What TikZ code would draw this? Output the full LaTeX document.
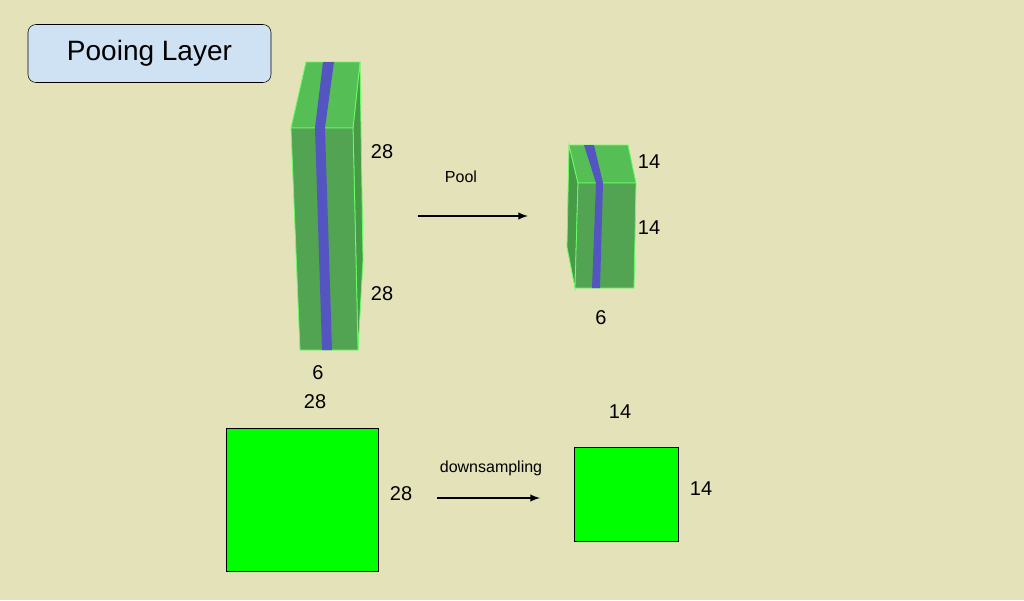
\documentclass[tikz,border=0pt]{standalone}
\usepackage{fontspec}
\setmainfont{Liberation Sans}
\definecolor{bg}{HTML}{E4E2B8}
\definecolor{tbox}{HTML}{CFE2F3}
\definecolor{gtop}{HTML}{55BE55}
\definecolor{gfront}{HTML}{52A352}
\definecolor{gside}{HTML}{479B47}
\definecolor{blu}{HTML}{5555C2}
\definecolor{bright}{HTML}{00FF00}
\begin{document}
\begin{tikzpicture}[x=0.75pt,y=-0.75pt,
  lbl/.style={font=\fontsize{15}{15}\selectfont,inner sep=0pt},
  small/.style={font=\fontsize{12}{12}\selectfont,inner sep=0pt},
  arr/.style={-latex,line width=1.5pt},
  edge/.style={draw=green!60!white,line width=0.6pt}]
\fill[bg] (0,0) rectangle (1024,600);
\useasboundingbox (0,0) rectangle (1024,600);
\node[draw=black,fill=tbox,rounded corners=6pt,minimum width=243*0.75pt,minimum height=58*0.75pt,font=\fontsize{21}{21}\selectfont] (title) at (149.5,53.5) {Pooing Layer};
% big box
\fill[gside,edge] (360,62) -- (363,260) -- (358,350) -- (353,128) -- cycle;
\fill[gtop,edge] (306,62) -- (360,62) -- (353,128) -- (291,128) -- cycle;
\fill[gfront,edge] (291,128) -- (353,128) -- (358,350) -- (300,350) -- cycle;
\fill[blu] (323,62) -- (334,62) -- (325,128) -- (315,128) -- cycle;
\fill[blu] (315,128) -- (325,128) -- (332,350) -- (322,350) -- cycle;
% small box
\fill[gside,edge] (569,145) -- (578,183) -- (575,288) -- (567,247) -- cycle;
\fill[gtop,edge] (569,145) -- (628,145) -- (636,183) -- (578,183) -- cycle;
\fill[gfront,edge] (578,183) -- (636,183) -- (634,288) -- (575,288) -- cycle;
\fill[blu] (584,145) -- (594,145) -- (603,183) -- (596,183) -- cycle;
\fill[blu] (596,183) -- (603,183) -- (600,288) -- (592,288) -- cycle;
% labels top
\node[lbl] (a1) at (382,152) {28};
\node[lbl] (a2) at (382,294) {28};
\node[lbl] (a3) at (318,373) {6};
\node[lbl] (b1) at (649,162) {14};
\node[lbl] (b2) at (649,228) {14};
\node[lbl] (b3) at (601,318) {6};
\node[small] (pool) at (461,177) {Pool};
\coordinate (p1) at (418,216); \coordinate (p2) at (528,216);
\draw[arr] (p1) -- (p2);
% squares
\node[draw=black,fill=bright,minimum width=152*0.75pt,minimum height=143*0.75pt,inner sep=0pt] (sq1) at (302.5,499.5) {};
\node[draw=black,fill=bright,minimum width=104*0.75pt,minimum height=94*0.75pt,inner sep=0pt] (sq2) at (626,494.5) {};
\node[lbl] (c1) at (315,402) {28};
\node[lbl] (c2) at (401,494) {28};
\node[lbl] (d1) at (620,412) {14};
\node[lbl] (d2) at (701,489) {14};
\node[small] (ds) at (491,468) {downsampling};
\coordinate (q1) at (437,498); \coordinate (q2) at (540,498);
\draw[arr] (q1) -- (q2);
\end{tikzpicture}
\end{document}
